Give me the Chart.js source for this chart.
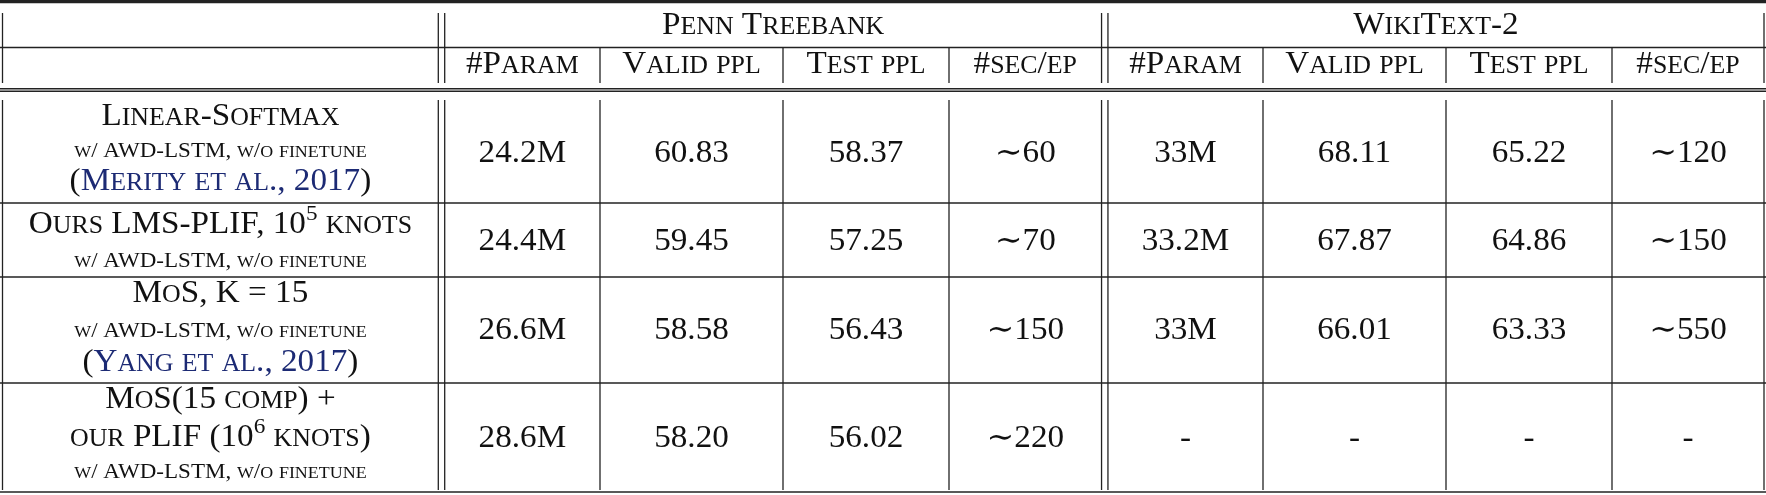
<!DOCTYPE html>
<html>
<head>
<meta charset="utf-8">
<script src="https://cdn.jsdelivr.net/npm/chart.js@4.4.1/dist/chart.umd.min.js"></script>
<style>
html,body{margin:0;padding:0;background:#fff;overflow:hidden}
#wrap{width:1766px;height:495px}
</style>
</head>
<body>
<div id="wrap"><canvas id="tbl" width="1766" height="495"></canvas></div>
<script>
// ---- table content ----
const corpora=['Penn Treebank','WikiText-2'];
const metrics=['#Param','Valid ppl','Test ppl','#sec/ep'];
const ptbParam=['24.2M','24.4M','26.6M','28.6M'];
const ptbValid=[60.83,59.45,58.58,58.20];
const ptbTest=[58.37,57.25,56.43,56.02];
const ptbSec=[60,70,150,220];
const wikiParam=['33M','33.2M','33M',null];
const wikiValid=[68.11,67.87,66.01,null];
const wikiTest=[65.22,64.86,63.33,null];
const wikiSec=[120,150,550,null];

// model names: lines made of [text, style] runs
const setup='w/ AWD-LSTM, w/o finetune';
const models=[
  [[['Linear-Softmax','sc']],[[setup,'sc small']],[['(',''],['Merity et al.','sc cite'],[', 2017','cite'],[')','']]],
  [[['Ours LMS-PLIF, 10','sc'],['5','sup'],[' knots','sc']],[[setup,'sc small']]],
  [[['MoS, K = 15','sc']],[[setup,'sc small']],[['(',''],['Yang et al.','sc cite'],[', 2017','cite'],[')','']]],
  [[['MoS(15 comp) +','sc']],[['our PLIF (10','sc'],['6','sup'],[' knots)','sc']],[[setup,'sc small']]]
];

// ---- layout (pixel units of the scales) ----
const W=1766,H=495;
const colEdges=[2.5,441.5,600,783,949,1104.75,1263,1446,1612,1764];
const dblCols=[1,5];            // edges drawn as double rules
const dblGap=3.2;
const hdrBase=[34,73];
const numBase=[162,249.5,339,447];
const nameBase=[[125,157,190],[233,267],[302,337,371],[408,446,478]];
const bodyRules=[203,277,383,492];
const BIG=31,SMALL=21.5,SC=0.78,SX=1.07;
const INK='#111',CITE='#1c2a74',RULE='#222';
const FONT='"Liberation Serif","Times New Roman","DejaVu Serif",serif';

const fmt2=v=>v==null?'-':v.toFixed(2);
const fmtSec=v=>v==null?'-':'\u223C'+v;
const fmtP=v=>v==null?'-':v;

const columns=[
  ptbParam.map(fmtP),ptbValid.map(fmt2),ptbTest.map(fmt2),ptbSec.map(fmtSec),
  wikiParam.map(fmtP),wikiValid.map(fmt2),wikiTest.map(fmt2),wikiSec.map(fmtSec)
];

function inner(i){ // inner left/right of column i
  let l=colEdges[i],r=colEdges[i+1];
  if(dblCols.includes(i))l+=dblGap;
  if(dblCols.includes(i+1))r-=dblGap;
  return [l,r];
}
const mid=i=>{const [l,r]=inner(i);return (l+r)/2;};

const font=s=>s+'px '+FONT;
function pieces(runs,base){
  const out=[];
  runs.forEach(([txt,st])=>{
    const sc=st.includes('sc'),sup=st.includes('sup');
    const sz=sup?base*0.7:base;
    const dy=sup?-base*0.42:0;
    const color=st.includes('cite')?CITE:INK;
    if(!sc){out.push({t:txt,sz,dy,color});return;}
    let cur=null;
    for(const ch of txt){
      const low=ch!==ch.toUpperCase();
      const s=low?sz*SC:sz;
      const c=low?ch.toUpperCase():ch;
      if(cur&&cur.sz===s)cur.t+=c;
      else{cur={t:c,sz:s,dy,color};out.push(cur);}
    }
  });
  return out;
}
function drawRich(ctx,runs,base,cx,y){
  const ps=pieces(runs,base);
  let w=0;
  ps.forEach(p=>{ctx.font=font(p.sz);p.w=ctx.measureText(p.t).width;w+=p.w;});
  ctx.save();
  ctx.translate(cx,y);ctx.scale(SX,1);
  ctx.textBaseline='alphabetic';ctx.textAlign='left';
  let x=-w/2;
  ps.forEach(p=>{ctx.font=font(p.sz);ctx.fillStyle=p.color;ctx.fillText(p.t,x,p.dy);x+=p.w;});
  ctx.restore();
}

const tablePlugin={
  id:'table',
  afterDatasetsDraw(chart){
    const {ctx,scales:{x,y}}=chart;
    const X=v=>x.getPixelForValue(v),Y=v=>y.getPixelForValue(v);
    ctx.save();
    ctx.strokeStyle=RULE;
    const h=(yy,lw)=>{ctx.lineWidth=lw;ctx.beginPath();ctx.moveTo(X(0),Y(yy));ctx.lineTo(X(W),Y(yy));ctx.stroke();};
    const v=(xx,y0,y1)=>{ctx.lineWidth=1.3;ctx.beginPath();ctx.moveTo(X(xx),Y(y0));ctx.lineTo(X(xx),Y(y1));ctx.stroke();};
    const vEdge=(i,y0,y1)=>{
      if(dblCols.includes(i)){v(colEdges[i]-dblGap,y0,y1);v(colEdges[i]+dblGap,y0,y1);}
      else v(colEdges[i],y0,y1);
    };
    // horizontal rules
    h(1.6,3.2);h(47.5,1.4);h(88.7,1.4);h(91.2,1.4);
    bodyRules.forEach(r=>h(r,1.4));
    // vertical rules
    [0,1,5,9].forEach(i=>vEdge(i,13,47.5));
    colEdges.forEach((_,i)=>vEdge(i,47.5,83));
    colEdges.forEach((_,i)=>vEdge(i,100,490));
    // headers
    corpora.forEach((c,k)=>{
      const l=inner(1+k*4)[0],r=inner(4+k*4)[1];
      drawRich(ctx,[[c,'sc']],BIG,X((l+r)/2),Y(hdrBase[0]));
    });
    for(let k=0;k<2;k++)metrics.forEach((m,j)=>drawRich(ctx,[[m,'sc']],BIG,X(mid(1+k*4+j)),Y(hdrBase[1])));
    // model names
    models.forEach((lines,r)=>lines.forEach((runs,li)=>{
      const small=runs[0][1].includes('small');
      drawRich(ctx,runs,small?SMALL:BIG,X(mid(0)),Y(nameBase[r][li]));
    }));
    // numeric cells, positioned by the points of each dataset
    chart.data.datasets.forEach((ds,di)=>{
      chart.getDatasetMeta(di).data.forEach((pt,i)=>drawRich(ctx,[[ds.labels[i],'']],BIG,pt.x,pt.y));
    });
    ctx.restore();
  }
};

new Chart(document.getElementById('tbl'),{
  type:'scatter',
  data:{
    datasets:columns.map((vals,c)=>({
      label:(c<4?corpora[0]:corpora[1])+' '+metrics[c%4],
      labels:vals,
      data:vals.map((_,r)=>({x:mid(c+1),y:numBase[r]})),
      pointRadius:0,showLine:false
    }))
  },
  options:{
    responsive:false,animation:false,devicePixelRatio:1,
    layout:{padding:0},
    plugins:{legend:{display:false},tooltip:{enabled:false}},
    scales:{
      x:{type:'linear',min:0,max:W,display:false},
      y:{type:'linear',min:0,max:H,reverse:true,display:false}
    }
  },
  plugins:[tablePlugin]
});
</script>
</body>
</html>
